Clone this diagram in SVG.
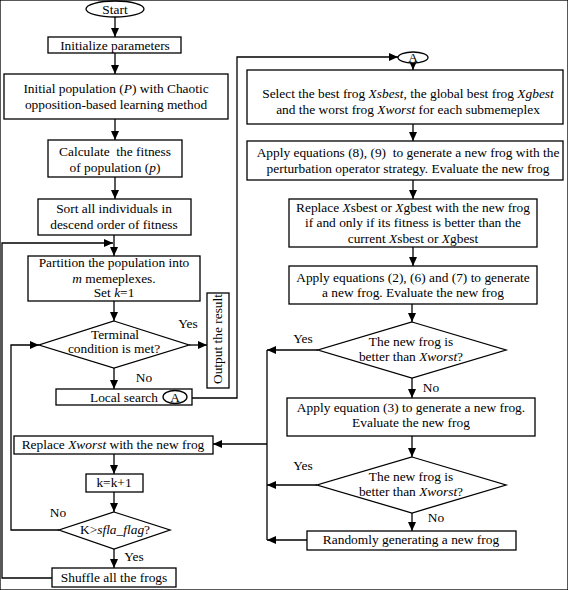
<svg xmlns="http://www.w3.org/2000/svg" width="568" height="590" viewBox="0 0 568 590">
<defs>
<marker id="ah" markerUnits="userSpaceOnUse" markerWidth="10" markerHeight="8" refX="9" refY="4" orient="auto">
<path d="M0,0 L9,4 L0,8 Z" fill="#000"/>
</marker>
<style>
rect,ellipse,polygon{fill:#fff;stroke:#000;stroke-width:1.3}
text{font-family:"Liberation Serif","Times New Roman",serif;font-size:13.4px;fill:#000;text-anchor:middle}
.i{font-style:italic}
.c path,.c line{fill:none;stroke:#000;stroke-width:1.3}
.a{marker-end:url(#ah)}
</style>
</defs>
<rect width="568" height="590" fill="#fff" stroke="none"/>

<g class="c" id="connectors">
<line class="a" x1="115" y1="17" x2="115" y2="37"/>
<line class="a" x1="115" y1="53" x2="115" y2="74"/>
<line class="a" x1="115" y1="119" x2="115" y2="140"/>
<line class="a" x1="115" y1="177" x2="115" y2="199"/>
<line class="a" x1="114" y1="235" x2="114" y2="256"/>
<path class="a" d="M52,578 H2 V243 H113"/>
<line class="a" x1="114" y1="301" x2="114" y2="321"/>
<line class="a" x1="189" y1="345" x2="207" y2="345"/>
<line class="a" x1="114" y1="368" x2="114" y2="389"/>
<path class="a" d="M192,398 H237 V57 H398"/>
<line class="a" x1="413" y1="63" x2="413" y2="70"/>
<line class="a" x1="413" y1="124" x2="413" y2="141"/>
<line class="a" x1="413" y1="180" x2="413" y2="199"/>
<line class="a" x1="413" y1="247" x2="413" y2="266"/>
<line class="a" x1="412" y1="304" x2="412" y2="322"/>
<line class="a" x1="318" y1="350" x2="267" y2="350"/>
<line x1="267" y1="350" x2="267" y2="540"/>
<line class="a" x1="412" y1="378" x2="412" y2="398"/>
<line class="a" x1="412" y1="436" x2="412" y2="457"/>
<line class="a" x1="317" y1="485" x2="267" y2="485"/>
<line class="a" x1="412" y1="513" x2="412" y2="531"/>
<line class="a" x1="307" y1="540" x2="267" y2="540"/>
<line class="a" x1="267" y1="444" x2="213" y2="444"/>
<line class="a" x1="114" y1="454" x2="114" y2="474"/>
<line class="a" x1="114" y1="492" x2="114" y2="512"/>
<path class="a" d="M59,530 H11 V345 H39"/>
<line class="a" x1="114" y1="549" x2="114" y2="568"/>
</g>

<g id="start">
<ellipse cx="115" cy="9" rx="29" ry="8"/>
<text x="115" y="14">Start</text>
</g>
<g id="init-params">
<rect x="48" y="37" width="133" height="16"/>
<text x="115" y="50">Initialize parameters</text>
</g>
<g id="init-pop">
<rect x="4" y="74" width="224" height="45"/>
<text x="116" y="93">Initial population (<tspan class="i">P</tspan>) with Chaotic</text>
<text x="116" y="109">opposition-based learning method</text>
</g>
<g id="fitness">
<rect x="48" y="140" width="134" height="37"/>
<text x="115" y="156" style="white-space:pre">Calculate  the fitness</text>
<text x="115" y="172">of population (<tspan class="i">p</tspan>)</text>
</g>
<g id="sort">
<rect x="38" y="199" width="153" height="36"/>
<text x="114" y="213">Sort all individuals in</text>
<text x="114" y="229">descend order of fitness</text>
</g>
<g id="partition">
<rect x="28" y="256" width="172" height="45"/>
<text x="114" y="267">Partition the population into</text>
<text x="114" y="283"><tspan class="i">m</tspan> memeplexes.</text>
<text x="114" y="297">Set <tspan class="i">k</tspan>=1</text>
</g>
<g id="terminal">
<polygon points="114,321 189,345 114,368 39,345"/>
<text x="115" y="339">Terminal</text>
<text x="114" y="353">condition is met?</text>
<text x="188" y="328">Yes</text>
<text x="144" y="382">No</text>
</g>
<g id="output">
<rect x="207" y="293" width="22" height="95"/>
<text transform="translate(222,339) rotate(-90)" x="0" y="0">Output the result</text>
</g>
<g id="local-search">
<rect x="56" y="389" width="136" height="16"/>
<text x="124" y="402">Local search</text>
<ellipse cx="175" cy="397" rx="12" ry="6.5"/>
<text x="175" y="402">A</text>
</g>
<g id="connector-a">
<ellipse cx="413" cy="57.5" rx="15" ry="5.5"/>
<text x="413" y="62">A</text>
</g>
<g id="select">
<rect x="247" y="70" width="316" height="54"/>
<text x="408" y="98">Select the best frog <tspan class="i">Xsbest</tspan>, the global best frog <tspan class="i">Xgbest</tspan></text>
<text x="408" y="114">and the worst frog <tspan class="i">Xworst</tspan> for each submemeplex</text>
</g>
<g id="apply89">
<rect x="247" y="141" width="316" height="39"/>
<text x="408" y="157" style="white-space:pre">Apply equations (8), (9)  to generate a new frog with the</text>
<text x="408" y="173">perturbation operator strategy. Evaluate the new frog</text>
</g>
<g id="replace-best">
<rect x="289" y="199" width="248" height="48"/>
<text x="413" y="212">Replace <tspan class="i">X</tspan>sbest or <tspan class="i">X</tspan>gbest with the new frog</text>
<text x="413" y="227">if and only if its fitness is better than the</text>
<text x="413" y="243">current <tspan class="i">X</tspan>sbest or <tspan class="i">X</tspan>gbest</text>
</g>
<g id="apply267">
<rect x="289" y="266" width="248" height="38"/>
<text x="413" y="282">Apply equations (2), (6) and (7) to generate</text>
<text x="413" y="297">a new frog. Evaluate the new frog</text>
</g>
<g id="better1">
<polygon points="412,322 506,350 412,378 318,350"/>
<text x="411" y="346">The new frog is</text>
<text x="411" y="361">better than <tspan class="i">Xworst</tspan>?</text>
<text x="303" y="343">Yes</text>
<text x="431" y="392">No</text>
</g>
<g id="apply3">
<rect x="287" y="398" width="248" height="38"/>
<text x="411" y="412">Apply equation (3) to generate a new frog.</text>
<text x="411" y="427">Evaluate the new frog</text>
</g>
<g id="better2">
<polygon points="412,457 506,485 412,513 317,485"/>
<text x="411" y="481">The new frog is</text>
<text x="411" y="496">better than <tspan class="i">Xworst</tspan>?</text>
<text x="303" y="470">Yes</text>
<text x="436" y="522">No</text>
</g>
<g id="random">
<rect x="307" y="531" width="209" height="19"/>
<text x="411" y="544">Randomly generating a new frog</text>
</g>
<g id="replace-worst">
<rect x="14" y="436" width="199" height="18"/>
<text x="113" y="449">Replace <tspan class="i">Xworst</tspan> with the new frog</text>
</g>
<g id="increment">
<rect x="86" y="474" width="57" height="18"/>
<text x="114" y="487">k=k+1</text>
</g>
<g id="check-k">
<polygon points="114,512 170,530 114,549 59,530"/>
<text x="115" y="534">K&gt;<tspan class="i">sfla_flag</tspan>?</text>
<text x="58" y="517">No</text>
<text x="134" y="561">Yes</text>
</g>
<g id="shuffle">
<rect x="52" y="568" width="124" height="19"/>
<text x="114" y="582">Shuffle all the frogs</text>
</g>
</svg>
